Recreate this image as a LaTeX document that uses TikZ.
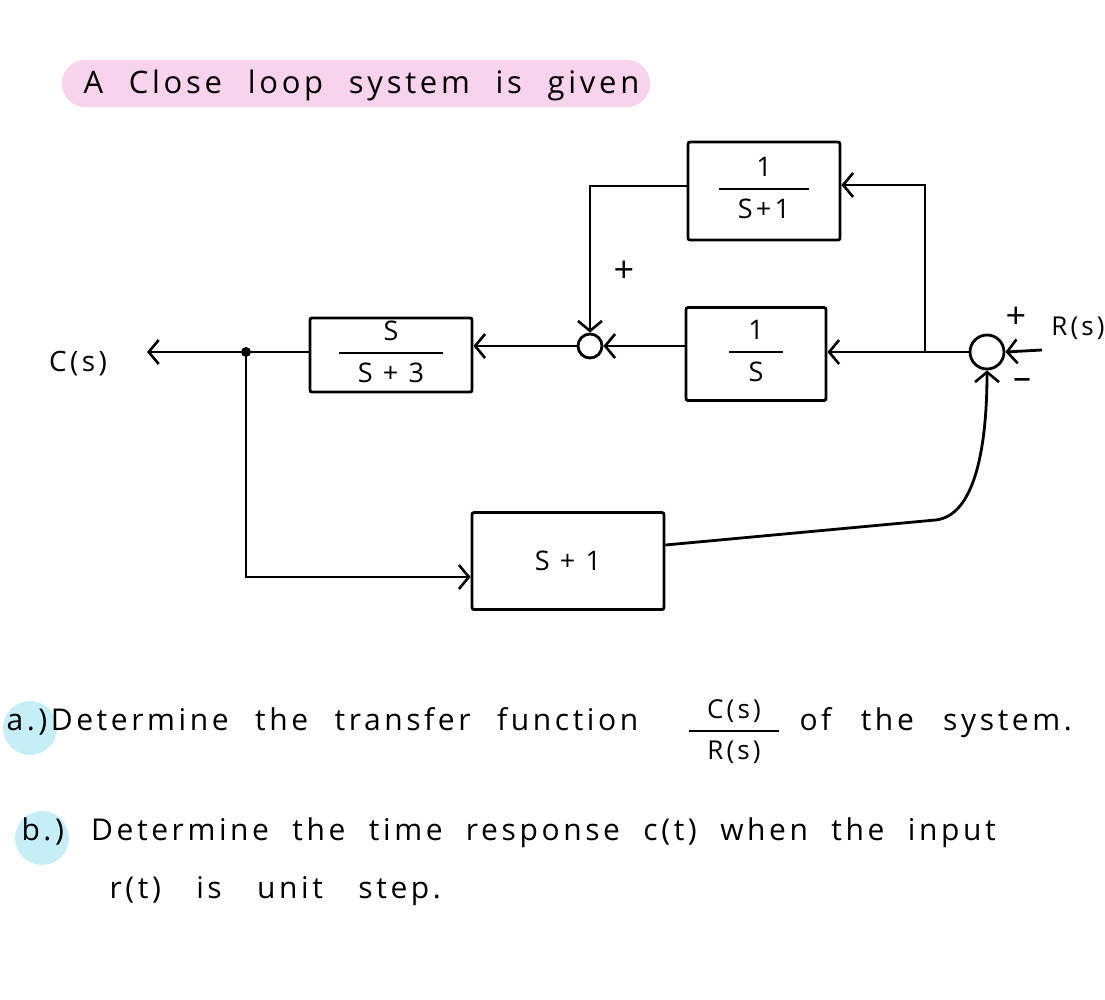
\documentclass[tikz,border=0pt]{standalone}
\usepackage{fontspec}
\setmainfont{Open Sans}
\newfontfamily\handfam[LetterSpace=12]{Open Sans}
\usetikzlibrary{arrows.meta}

\definecolor{titlepink}{HTML}{F9D2EC}
\definecolor{markblue}{HTML}{C6EEF8}

% fraction with a long bar, as in the boxes
\newcommand{\blockfrac}[2]{{\arrayrulewidth=2.2pt\begin{tabular}{@{\hspace{0.7em}}c@{\hspace{0.7em}}}#1\\[2pt]\hline\rule{0pt}{1.05em}#2\end{tabular}}}
\newcommand{\handfont}{\handfam\fontsize{30}{36}\selectfont}

\tikzset{
  block/.style={draw, line width=2.8pt, rounded corners=2pt, inner sep=0pt, font=\handfam\fontsize{27}{32}\selectfont},
  sumnode/.style={draw, circle, line width=2.8pt, inner sep=0pt},
  branch/.style={circle, fill, inner sep=0pt, minimum size=10pt},
  wire/.style={line width=2.8pt},
  flow/.style={wire, -{Straight Barb[length=10pt,width=24pt,line width=2.6pt]}},
  hand/.style={font=\handfont},
  sign/.style={font=\fontsize{36}{40}\selectfont},
}

\begin{document}
\begin{tikzpicture}[x=1pt,y=-1pt]
\useasboundingbox (0,0) rectangle (1105,999);

% title
\fill[titlepink, rounded corners=23pt] (62,60) rectangle (650,107);
\node[hand, font=\handfam\fontsize{31}{36}\selectfont, anchor=base west] (title) at (80,93) {A\hspace{0.45em} Close\hspace{0.45em} loop\hspace{0.45em} system\hspace{0.45em} is\hspace{0.45em} given};

% blocks
\node[block, minimum width=152pt, minimum height=98pt] (G1) at (764,191) {\blockfrac{1}{S+1}};
\node[block, minimum width=140pt, minimum height=93pt] (G2) at (756,354) {\blockfrac{1}{S}};
\node[block, minimum width=162pt, minimum height=65pt] (G3) at (391,355) {\blockfrac{S}{S + 3}};
\node[block, minimum width=192pt, minimum height=97pt] (H) at (568,561) {S + 1};

% summing points and taps
\node[sumnode, minimum size=24pt] (sum1) at (590,346) {};
\node[sumnode, minimum size=34pt] (sum2) at (987,352) {};
\node[branch] (tap) at (246,352) {};
\coordinate (split) at (925,352);
\coordinate (Rin) at (1042,350);
\coordinate (Cout) at (147,352);

% signals
\draw[flow] (Rin) -- (sum2.east);
\draw[wire] (sum2.west) -- (split);
\draw[flow] (split) -- (split -| G2.east);
\draw[flow] (split) |- ([yshift=6pt]G1.east);
\draw[flow] ([yshift=5pt]G1.west) -| (sum1.north);
\draw[flow] (sum1.east -| G2.west) -- (sum1.east);
\draw[flow] (sum1.west) -- (sum1.west -| G3.east);
\draw[wire] (tap -| G3.west) -- (tap);
\draw[flow] (tap) -- (Cout);
\draw[flow] (tap) |- ([yshift=-16pt]H.west);
\draw[flow] ([yshift=16pt]H.east) -- ++(270,-25) .. controls +(40,-4) and +(0,75) .. (sum2.south);

% signs and signal names
\node[sign] (p1) at (624,272) {+};
\node[sign] (p2) at (1016,318) {+};
\node[sign] (m2) at (1022,384) {\textendash};
\node[hand, font=\handfam\fontsize{26}{30}\selectfont] (R) at (1078,328) {R(s)};
\node[hand, font=\handfam\fontsize{28}{30}\selectfont] (C) at (78,364) {C(s)};

% questions
\fill[markblue] (30,728) circle (27pt);
\fill[markblue] (42,838) circle (27pt);
\node[hand, anchor=base west] (qa) at (3,730) {a.)Determine\hspace{0.5em} the\hspace{0.5em} transfer\hspace{0.5em} function};
\node[hand, font=\handfam\fontsize{26}{30}\selectfont] (tf) at (734,733) {\blockfrac{C(s)}{R(s)}};
\node[hand, anchor=base west] (qa2) at (796,730) {of\hspace{0.6em} the\hspace{0.6em} system.};
\node[hand, anchor=base west] (qb) at (18,840) {b.)\hspace{0.4em} Determine\hspace{0.4em} the\hspace{0.4em} time\hspace{0.4em} response\hspace{0.4em} c(t)\hspace{0.4em} when\hspace{0.4em} the\hspace{0.4em} input};
\node[hand, anchor=base west] (qc) at (106,898) {r(t)\hspace{0.8em} is\hspace{0.8em} unit\hspace{0.8em} step.};
\end{tikzpicture}
\end{document}
